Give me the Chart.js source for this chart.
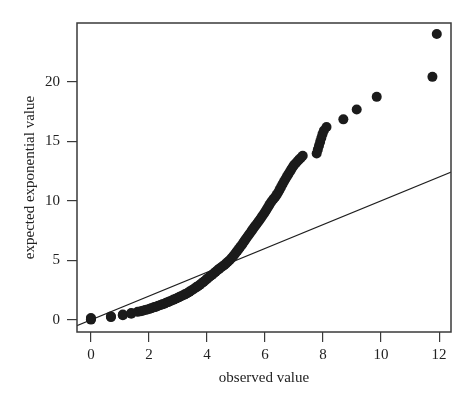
<!DOCTYPE html>
<html>
<head>
<meta charset="utf-8">
<script src="https://cdn.jsdelivr.net/npm/chart.js@4/dist/chart.umd.min.js"></script>
<style>
html,body{margin:0;padding:0;background:#fff;}
canvas{display:block;}
</style>
</head>
<body>
<canvas id="c" width="474" height="405"></canvas>
<script>
const observed = [
  0, 0, 0, 0.69, 0.69, 1.10, 1.10, 1.39, 1.39, 1.61,
  1.72, 1.79, 1.87, 1.95, 2.03, 2.08, 2.15, 2.20, 2.27, 2.32,
  2.40, 2.46, 2.53, 2.59, 2.66, 2.72, 2.79, 2.85, 2.92, 2.98,
  3.04, 3.10, 3.16, 3.22, 3.28, 3.34, 3.40, 3.46, 3.52, 3.58,
  3.64, 3.70, 3.76, 3.82, 3.88, 3.94, 4.00, 4.06, 4.12, 4.18,
  4.24, 4.30, 4.36, 4.42, 4.48, 4.54, 4.60, 4.66, 4.72, 4.78,
  4.84, 4.90, 4.95, 5.00, 5.05, 5.10, 5.15, 5.20, 5.25, 5.30,
  5.35, 5.40, 5.45, 5.50, 5.55, 5.60, 5.65, 5.70, 5.75, 5.80,
  5.85, 5.90, 5.95, 6.00, 6.05, 6.10, 6.15, 6.20, 6.25, 6.30,
  6.35, 6.40, 6.45, 6.50, 6.55, 6.60, 6.65, 6.70, 6.75, 6.80,
  6.85, 6.90, 6.95, 7.00, 7.06, 7.12, 7.18, 7.24, 7.30,
  7.78, 7.82, 7.86, 7.90, 7.94, 7.98, 8.03, 8.12,
  8.70, 9.16, 9.85, 11.77, 11.92
];
const expected = [
  0.03, 0.09, 0.16, 0.24, 0.30, 0.40, 0.45, 0.53, 0.58, 0.68,
  0.73, 0.78, 0.83, 0.88, 0.94, 0.98, 1.04, 1.08, 1.14, 1.19,
  1.25, 1.31, 1.37, 1.44, 1.50, 1.57, 1.64, 1.71, 1.78, 1.85,
  1.92, 1.99, 2.06, 2.13, 2.21, 2.29, 2.38, 2.47, 2.56, 2.66,
  2.76, 2.86, 2.97, 3.08, 3.20, 3.32, 3.45, 3.57, 3.69, 3.80,
  3.92, 4.05, 4.17, 4.29, 4.40, 4.51, 4.62, 4.75, 4.88, 5.02,
  5.18, 5.34, 5.50, 5.66, 5.82, 5.98, 6.14, 6.30, 6.48, 6.66,
  6.84, 7.01, 7.18, 7.35, 7.52, 7.69, 7.86, 8.02, 8.18, 8.35,
  8.52, 8.70, 8.88, 9.06, 9.26, 9.46, 9.66, 9.86, 10.03, 10.18,
  10.33, 10.50, 10.70, 10.92, 11.15, 11.38, 11.60, 11.82, 12.02, 12.22,
  12.42, 12.62, 12.82, 13.00, 13.16, 13.32, 13.48, 13.62, 13.78,
  13.98, 14.30, 14.62, 14.95, 15.28, 15.60, 15.90, 16.20,
  16.84, 17.67, 18.73, 20.41, 24.00
];
// Reference line y = x (endpoints beyond the axes, clipped to the plot)
const refLineX = [-1, 13];
const refLineY = [-1, 13];
const xTicks = [0, 2, 4, 6, 8, 10, 12];
const yTicks = [0, 5, 10, 15, 20];
const xRange = [-0.48, 12.41];
const yRange = [-1.01, 24.93];
const xTitle = 'observed value';
const yTitle = 'expected exponential value';

const points = observed.map((v, i) => ({x: v, y: expected[i]}));
const refLine = refLineX.map((v, i) => ({x: v, y: refLineY[i]}));

const serif = "'Liberation Serif', 'Times New Roman', serif";
const axisColor = '#3a3a3a';

const boxPlugin = {
  id: 'box',
  afterDatasetsDraw(chart) {
    const {ctx, chartArea: a} = chart;
    ctx.save();
    ctx.strokeStyle = axisColor;
    ctx.lineWidth = 1.5;
    ctx.strokeRect(a.left, a.top, a.right - a.left, a.bottom - a.top);
    ctx.restore();
  }
};

new Chart(document.getElementById('c'), {
  type: 'scatter',
  data: {
    datasets: [
      {
        data: refLine,
        type: 'line',
        showLine: true,
        borderColor: '#1e1e1e',
        borderWidth: 1.2,
        pointRadius: 0,
        fill: false,
        order: 2
      },
      {
        data: points,
        backgroundColor: '#1b1b1b',
        borderWidth: 0,
        pointRadius: 5,
        order: 1
      }
    ]
  },
  options: {
    responsive: false,
    animation: false,
    layout: {padding: {left: 0, top: 23, right: 23, bottom: 0}},
    plugins: {legend: {display: false}, tooltip: {enabled: false}},
    scales: {
      x: {
        type: 'linear',
        min: xRange[0],
        max: xRange[1],
        afterBuildTicks(s) { s.ticks = xTicks.map(v => ({value: v})); },
        afterFit(s) { s.height = 73; },
        border: {display: false},
        grid: {drawOnChartArea: false, drawTicks: true, tickLength: 10, color: axisColor, lineWidth: 1.2},
        ticks: {color: '#222', padding: 4, font: {family: serif, size: 15}, maxRotation: 0},
        title: {display: true, text: xTitle, color: '#222', font: {family: serif, size: 15}, padding: {top: 0, bottom: 18}}
      },
      y: {
        type: 'linear',
        min: yRange[0],
        max: yRange[1],
        afterBuildTicks(s) { s.ticks = yTicks.map(v => ({value: v})); },
        afterFit(s) { s.width = 77; },
        border: {display: false},
        grid: {drawOnChartArea: false, drawTicks: true, tickLength: 10, color: axisColor, lineWidth: 1.2},
        ticks: {color: '#222', padding: 7, font: {family: serif, size: 15}},
        title: {display: true, text: yTitle, color: '#222', font: {family: serif, size: 15}, padding: {top: 21, bottom: 0}}
      }
    }
  },
  plugins: [boxPlugin]
});
</script>
</body>
</html>
